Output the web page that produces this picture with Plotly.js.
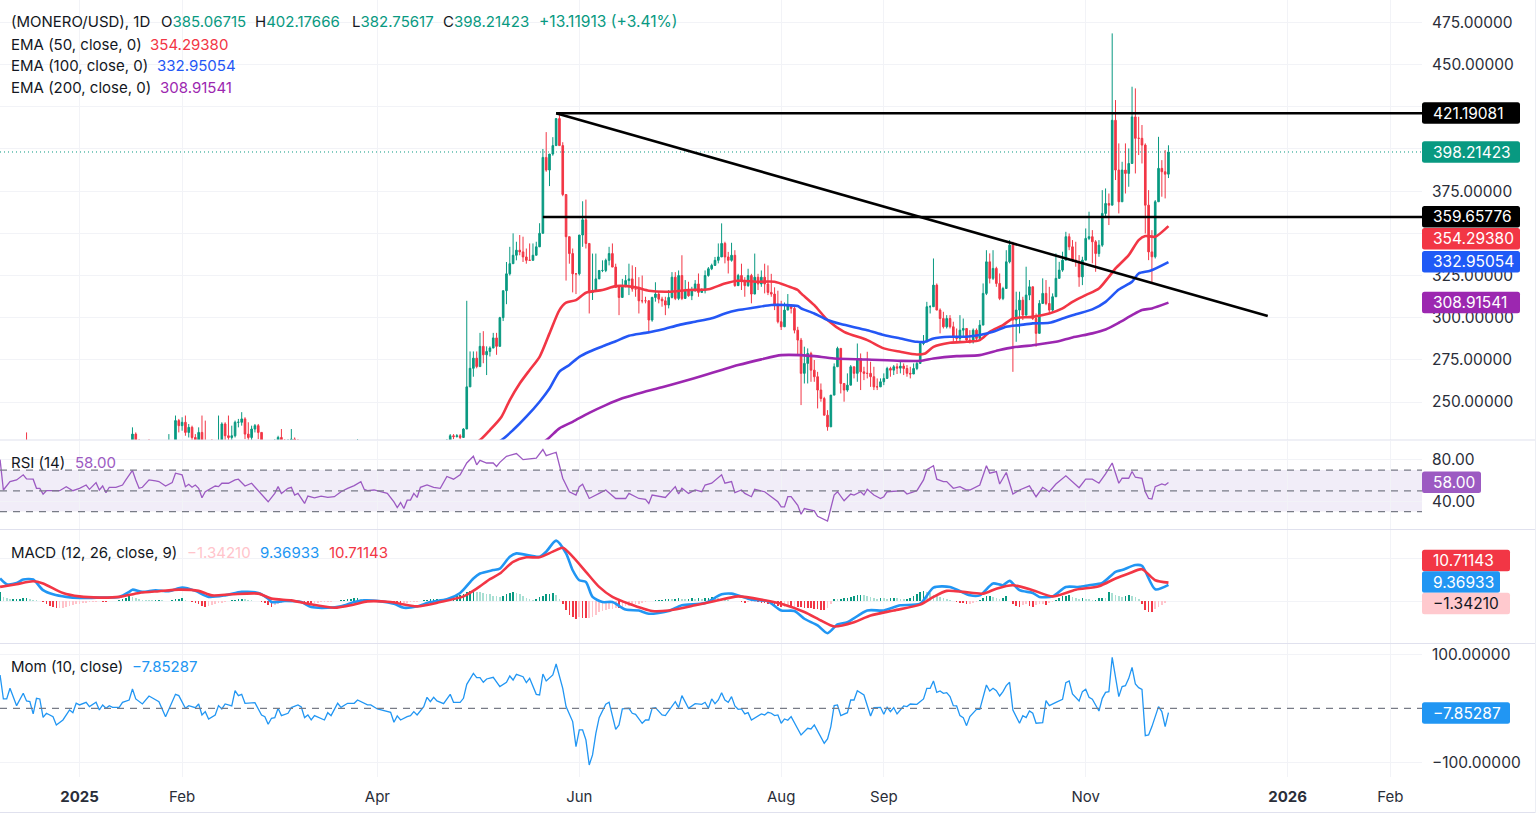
<!DOCTYPE html>
<html><head><meta charset="utf-8">
<script src="https://cdn.plot.ly/plotly-3.0.1.min.js"></script>
<style>html,body{margin:0;padding:0;background:#fff}</style></head>
<body><div id="chart" style="width:1536px;height:813px"></div>
<script>
// Daily bars start 24 days before 2025-01-01 (day 0 = 2025-01-01)
const firstDay = -24;
const closes = [
195,199,203,208,213,218,216,222,221,219, 217,214,210,213,216,212,209,211,215,218,
214,210,212,208,206,211,215,218,216,213, 210,214,217,220,216,213,215,218,221,224,
231,226,223,219,222,220,218,221,224,222, 220,226,224,239,236,238,232,235,229,226,
232,226,224,222,220,221,226,237,230,229, 230,238,238,240,231,229,234,236,232,226,
224,221,222,225,229,226,223,226,228,226, 225,222,219,217,214,212,215,213,210,208,
210,207,205,208,204,206,210,213,219,214, 212,209,206,203,205,208,206,204,207,210,
208,212,214,217,215,218,216,219,221,218, 220,222,224,221,223,224,230,229.5,230,229,234,
259,270,276,271,283,278,280,282,288,283, 300,316,326,332,337,340,339,336,334,334,
337,342,350,395,387.5,397,402,418,402,373, 348,338,326,326,349,358,344,315,316,323,
328,328,334,338,330,318,312,319,322,323, 317,317,310,310,310,298.6,312,314,311,310,
307.5,312,324,311.4,325,311.4,316,313,316,320, 315,316,325,329,331,334,336,344,336,334,
337,319,325,322,319,325,314,324,320,324, 320,315,314,308,297.6,294.6,304.5,307.5,305.5,292.6,
286.7,267,
272.9,278.8,268.9,265,257.1,252.1,242.2,235.3,254.1,270.9, 281.8,261,257.1,260,270.9,267,275.8,267.9,267,267,
265,259,259,262,264,269.9,268.9,270.9,270.1,271.3, 269.9,267,266.6,269.9,272.9,284.7,285.7,306.5,306.5,319.3,
304.5,299.5,294.6,299.5,294.6,288.7,287.7,292.6,293.6,286.7, 285.7,292.6,287.7,295.6,314.4,333.1,323.3,329.2,320.3,311.4,
317.3,333.1,343,298.6,304.5,310.4,301.5,313.4,318.3,299.5, 290.7,308.4,314.4,308.4,304.5,312.4,323.3,328.2,334.1,348,
342,334.1,333.1,324.2,334.1,347,348,345,338,343, 361.8,367.7,366.7,417,387.5,368.7,387.5,385.5,391.4,419,
406.3,406.3,402.3,366.7,339,336.1,368.7,388.5,386.5,385.07,398.21];
const highs = [
198,202,206,211,216,221,220,225,232,222, 221,219,216,217,220,218,214,215,219,222,
220,216,215,214,211,214,218,222,221,218, 216,218,221,224,222,219,218,222,225,227,
235,232,228,225,226,228,224,225,227,226, 225,231,227,242,240,241,242,237,236,231,
235,242,239,226,228,224,242,238,238,242, 236,239,240,244,241,238,236,237,237,232,
227,225,226,228,230,234,228,228,234,229, 228,226,224,222,219,216,218,217,215,213,
214,212,209,211,209,210,214,217,228,221, 217,214,211,208,209,212,210,208,211,214,
213,215,218,220,219,221,220,222,224,223, 223,225,227,226,226,228,231,231,231,231,234.5,
310,280,280,280,291,292,283,283,291,291, 300.5,316,333,342,350,345,349,348,341,344,
344,345,356,400,410,396,407,418,420,404, 373,348,341,326,349,369,370,344,338,338,
328,334,335,342,344,332,319,323,325.3,332, 331,330,324,325,312.4,310.4,312.4,321,315.4,312.4,
312.4,316.4,327,327,328,337,322.3,321.3,318.3,322.3, 326.2,317.4,328,330,332,336,344,355.9,345,339,
344.4,340,326,332,324,329,326,338,326,328, 332,331,326,318,316,310,309,314,307.5,307.5,
294.6,288,
282.8,281.8,279.8,274.9,267.9,261,253.1,245.2,254.1,272.9, 282.8,281.8,261,267,271.9,270.9,284.7,278.8,270.9,279.8,
273.9,270.9,264,264,267,270.9,270.9,271.9,272.9,273.9, 272.9,271.9,270.9,272.9,274.9,285.7,289.7,309.4,307.4,335.1,
320.3,305.5,303.5,301.5,301.5,297.6,293.6,301.5,299.5,293.6, 292.6,293.6,293.6,298.6,320.3,340,338.1,340,330.2,326.2,
318.3,340,346,345,315.4,315.4,312.4,330.2,322.3,317.3, 302.5,310.4,323.3,322.3,318.3,314.4,338.1,333.1,339.1,350.9,
349.9,346,345,337.1,336.1,352.9,362.8,351.9,346,346, 375.6,376.6,373.6,468.5,429,403.3,392.4,403.3,400.3,436.9,
435.9,419.1,414.2,403.3,375.6,351.9,369.7,407.2,393.4,399.3,402.18];
const lows = [
191,194,198,202,207,212,213,215,218,216, 214,209,206,208,212,208,205,207,210,214,
211,207,208,204,202,205,210,214,212,209, 206,209,212,216,212,209,211,214,217,220,
223,223,218,215,218,216,214,217,220,218, 216,219,220,223,232,233,230,229,226,222,
224,224,220,218,216,218,219,224,226,225, 226,229,235,236,228,225,227,232,228,222,
219,217,218,220,224,222,219,221,224,222, 221,218,215,213,210,208,210,209,206,204,
206,203,201,203,200,201,205,209,212,210, 208,204,201,199,201,204,202,200,203,206,
204,207,210,213,211,213,212,214,217,214, 216,218,220,217,219,220,224,228,229,228,229,
234,259,265,270,271,273,266,277,282,278, 283,298,308,325,332,334,337,333,332,334,
336,337,349,350,386.5,378,396,402,402,372, 322,332,315,314,325,342,341,302.5,310.5,316,
323,327,327,331,330,318,301.5,312,318,313.4, 315.4,312.4,302.5,308.5,308.5,290.7,297.6,309.5,308.5,306.5,
301.5,305.5,311.4,310.4,310.4,310.4,312.4,312.4,310.4,315.4, 312.4,315.4,314.4,324.3,328.2,331.2,332.2,336.1,332.2,326.2,
333.2,318.3,321.3,316.4,312.4,318.3,308.5,314.4,316.4,318.3, 314.4,313.4,312.4,304.5,296.6,292.7,294.6,304.5,302.5,290.7,
277.8,248.2,
261,261,262,262,246.2,250.2,242.2,233,235.3,254.1, 270.9,255.1,250.2,256.1,260,264,262,257.1,263,264,
259,257.1,257.1,259,260,264,265,266,266.6,267, 266,265,264,266.6,268.9,272.9,283.7,285.7,302.5,306.5,
304.5,290.7,293.6,293.6,293.6,285.7,285.7,285.7,288.7,285.7, 284.7,284.7,285.7,287.7,295.6,313.4,320.3,322.3,318.3,310.4,
310.4,317.3,332.2,267.9,285.7,290.7,298.6,306.5,310.4,298.6, 282.8,290.7,308.4,307.4,302.5,303.5,312.4,323.3,327.2,334.1,
340,333.1,330.2,318.3,319.3,334.1,346,332.2,327.2,336.1, 342,359.8,354.9,366.7,381.6,361.8,368.7,373.6,377.6,391.4,
385.5,396.4,391.4,349.9,334.1,320.3,335.1,368.7,371.7,370.7,382.76];

const ema50Days = [110,121,124,127.5,130,133,136,139,142,145,147,150,153,158,162,168,172,178,184,190,195,199,205,210,214,217,218,222,226,231,238,243,248,253,255.5,258,263,268,272,275,279,282,288,293,297,300,304,308,311,313,317,320,322,325,329];
const ema50Vals = [215,227.5,233.4,241.3,251.2,261,269,276.8,290.7,304.5,308.9,310.4,314.8,316.4,318.7,318,316,315.4,316.4,316.8,320.3,321.9,321.3,321.3,318.7,316.4,314.4,307.4,298.6,291.6,286.7,281.8,279.8,278.2,278.8,282.7,285.1,285.7,286.7,291.6,295.6,299.5,300.5,302.5,305.5,309.4,313.4,317.3,324.2,329.2,337.1,346,348.4,348,354.29];
const ema100Days = [115,127.5,131,135,139,142,145,148,151,154,158,162,166,171,176,181,186,191,195,199,204,209,213,217,218,222,226,230,238,243,248,253,255.5,258,263,268,272,276,280,284,288,293,297,301,306,310,314,318,320,323.5,329];
const ema100Vals = [214,227.5,233.4,241.3,250.2,258,268,272,276.8,279.8,283,286,289.3,291,293,295.6,297.6,299.6,302.5,304.5,306,307.5,307.5,306.9,305.5,302.5,298.6,296.2,292.6,289.7,287.7,285.7,285.7,287.7,288.7,288.7,289.7,291.6,294.6,295.6,296.6,297,299.5,302.1,304.9,309.4,316.7,321.3,326.2,327.8,332.95];
const ema200Days = [130,141,145,149,154,159,164,170,176,182,189,194,199,206,212,218,222,228,238,248,254,258,265,272,278,282,288,295,300,306,310,314,318,321,324,329];
const ema200Vals = [215,227.4,234.4,238.3,243.6,248.2,252.2,255.7,258.7,262,266,269,271.9,275.3,277.8,277.8,277.2,275.8,275.2,274.4,274.4,275.8,277.2,277.8,280.8,282.4,283.7,285.7,288.3,290.7,293,297,301.5,304.5,305.5,308.92];

const rsiDays = [-24,-23,-21,-19,-17,-16,-14,-13,-12,-11,-10,-6,-4,-2,0,2,3,5,6,7,8,9,11,13,14,16,17,18,19,21,23,24,26,28,29,31,32,33,34,35,36,37,38,39,41,42,43,45,47,48,50,52,54,56,57,59,60,61,63,64,65,66,68,69,71,73,75,77,79,81,83,85,86,87,89,91,93,95,96,97,98,99,100,101,102,103,105,107,109,111,113,115,117,119,120,121,123,125,126,127,129,132,134,138,140,141,144,146,148,150,151,152,154,157,159,162,165,166,169,171,172,173,177,180,181,182,184,186,188,189,191,194,195,197,198,200,201,203,204,207,209,211,212,213,214,215,217,218,219,222,223,226,228,229,231,233,234,236,237,238,240,242,243,244,249,250,253,255,256,258,259,261,262,264,266,268,269,272,274,275,277,278,280,282,284,287,289,291,293,295,298,300,302,304,306,308,310,312,314,315,317,318,319,321,322,323,324,325,327,328,329];
const rsiVals = [80,50.8,58.9,60.5,65.4,61.5,61.2,52.4,52.4,46.8,50.1,50.1,54,50.1,52.4,55.6,51.4,57.9,50.8,54.6,48.2,53.4,53.4,55.6,60.5,69.6,60.5,52.4,53.4,60.5,59.5,58.9,54.6,57.9,67,65.4,54,56.3,53.4,55.6,52.4,43.3,49.1,50.8,54.6,54,57.3,57.3,60.5,61.2,54.6,57.3,50.1,43.6,39.4,47.5,54,47.5,52.4,53.4,45.9,47.5,37.8,44.9,43.3,44.9,43.6,44.3,49.1,52.4,55,58.9,51.4,50.1,50.8,49.1,47.5,39.4,33.9,38.7,32.9,41,41,47.5,43.6,53.4,55.6,53.4,52.4,63.8,61.2,65.4,76.8,83.3,75.1,79.4,76.8,76.8,73.5,77.4,83.3,85.9,80,81.6,89.8,83.9,87.2,62.1,49.1,45.9,54,56.3,42.6,47.5,50.8,42.6,42.6,47.5,42.6,41.7,37.8,45.9,43.6,54,46.9,52.4,47.5,50.8,49.1,55.6,57.3,65.4,57.3,58.9,48.2,50.8,47.5,44.3,51.4,49.1,44.3,39.4,34.5,34.5,44.3,44.3,36.1,27.4,32.9,30.6,25.4,20.9,45.9,49.1,40.4,46.9,45.9,49.1,45.9,51.4,45.9,42.6,44.3,49.1,50.1,46.9,50.1,60.5,70.3,74.2,61.2,58.9,58.9,52.4,54,50.8,50.8,55.6,74.2,67,68.6,56.6,67.7,46.9,50.8,54.7,44.3,53.4,49.1,56.6,64.4,58.9,53,61.2,61.2,57.3,66.3,76.8,57.3,62.1,62.1,68.6,63.1,62.1,49.1,42.6,42,54,56.6,55.6,58];

const macdDays = [-24,-22,-19,-17,-14,-11,-8,-4,0,6,12,15,16,19,23,27,31,35,39,44,49,54,57,58,62,67,70,75,79,83,86,91,95,98,102,106,111,115,119,121,125,127,130,132,139,141,144,147,149,151,153,155,158,161,165,169,172,178,182,189,194,197,203,208,212,216,219,223,226,229,232,238,243,248,254,258,263,269,272,276,279,281,284,288,290,294,298,302,305,309,313,315,319,321,325,329];
const macdVals = [13.1,9.8,10.5,12.5,12.5,6.3,3.9,2.4,1.8,2,2.4,5.3,6.6,5.3,6.3,5.7,7.8,5.9,2.4,3.3,5.3,4.7,1.4,-0.6,0,-0.6,-3.5,-3.9,-3.1,-0.6,0.4,-0.2,-1.6,-3.9,-3.1,-0.6,1,4.7,13.1,16,18,18.9,25.8,27.7,25.8,28.7,35.1,27.7,17.9,12.1,11.1,2.4,-0.6,-0.6,-5,-5.5,-7.4,-5.8,-2.5,-1.2,3.9,4.3,0.8,-0.2,-5.5,-5.8,-10.3,-14.2,-18.7,-13.6,-12.3,-5.5,-5.5,-2.5,-1.6,7.8,8.2,3.3,3.3,10.2,9.2,11.7,6.3,4.7,2.4,2.7,8.2,8.2,9.2,10.5,17,18,20.9,20.5,6.8,9.37];
const signalDays = [-24,-19,-14,-11,-5,0,6,12,18,24,30,36,40,46,54,58,64,69,77,83,87,94,102,109,116,120,124,127,131,135,139,143,146,149,153,157,161,166,173,178,186,192,199,207,212,219,224,228,234,239,246,254,258,262,267,273,277,282,288,294,301,308,313,317,321,325,329];
const signalVals = [8.2,9.8,11.5,10.2,4.7,2.7,2,2.4,4.7,5.7,6.6,5.9,3.3,3.9,4.3,1.4,0.4,-1.6,-3.9,-2,-0.2,-0.6,-3.1,-0.6,2.7,7.2,12.7,16,22.8,25.4,25.4,28.7,31,25.8,17,8.2,2.4,-1.6,-5.8,-5.5,-2.5,0,2.7,0.4,-1.6,-6.4,-11.3,-14.8,-12.3,-8.4,-5.5,-2.1,2.4,5.9,5.3,4.3,7.2,9.2,6.3,2.7,6.6,8.6,13.1,16,18.5,12.1,10.71];
const histVals = [
5.2,2.5,1.5,1,1,1.2,1.3,1.5,2,1.2, 0.8,0.6,0.3,-0.5,-1.6,-2.8,-3.6,-4,-4,-3.8,
-3.6,-3,-2.4,-2,-1.6,-1.2,-0.9,-0.6,-0.4,-0.3, -0.2,-0.3,-0.6,-0.2,0.2,0.3,0.6,1.2,2,3,
2.4,1.8,1.2,0.8,0.7,0.5,0.4,0.4,0.8,0.5, 0.2,0.1,0.5,1,1.4,1.6,0.5,-0.2,-0.6,-1,
-2,-2.8,-3.2,-3,-2.4,-1.8,-1.4,-0.9,-0.5,0.3, 0.5,0.8,1,1.2,0.9,0.7,0.4,0.3,0.2,-0.5,
-1.4,-2.6,-3.2,-2.6,-1.6,-1,-0.6,-0.4,-0.3,-0.3, -0.5,-0.8,-1,-1.1,-1.2,-1.1,-1,-0.8,-0.6,-0.5,
-0.3,-0.2,0.3,0.5,0.7,1,1.2,1.5,1.6,1.4, 1.2,0.9,0.7,0.5,0.4,0.2,0.1,-0.2,-0.4,-0.7,
-1.2,-1.3,-1.2,-1,-0.7,-0.5,-0.3,0.3,0.6,0.8, 1,1,1.2,1,1.4,1.8,2.2,2.6,3,3.6,4.2,
5.3,6,6,5.5,5,4.6,4.2,3.8,3.2,2.8, 2.6,3.2,3.8,4.4,5.3,4.6,3.8,3,2,1.2,
0.6,1.2,2.3,3,3.9,4.3,4.7,3.5,0.9,-2, -5,-8,-9.5,-10.5,-9.5,-9.8,-10,-9.8,-9.4,-8,
-6.5,-6,-5,-4.5,-4.4,-4,-4.2,-3.5,-3,-2.8, -2.6,-2,-1.6,-1,-0.6,-0.2,0.1,0.4,0.4,0.8,
1.2,1.4,1.2,1.3,1.5,1.1,1,1.2,1.6,1, 1.8,1.4,1.6,1.8,2.4,2.2,1.8,1.2,0.8,0.6,
0.2,0.1,-0.2,-0.3,-1,-0.8,-0.5,-0.3,-0.8,-1, -1.2,-1.5,-2,-2.5,-3,-3.5,-3.2,-3,-3.4,-3.2,
-3.4,-3.6,-3.8,-4,-4.2,-4.5,-4.6,-5,-5.2,-4.2, -2,1.2,1,1.2,1.6,2,2.4,3,3.4,3.6,
3.4,2.8,2.2,1.6,1.4,1.6,1.5,1.4,1.6,1.7, 1.5,1.2,1,1.2,2,2.8,4,5,5.8,5.4,
4.6,3.4,3,2.6,2,1.2,0.6,0.2,-0.4,-1, -1.2,-1.6,-1.6,-1.3,-0.6,0.6,2,2.8,3.2,2.6,
1.6,1.2,2,3,0.2,-1.6,-2.8,-3.2,-2.6,-2, -3,-3.6,-2.6,-2,-2,-2.2,-1.4,-0.4,0.6,1.6,
2.8,3,3.4,2.6,1.6,1.4,1.6,1.4,1,0.6, 0.8,1.6,2,1.8,5,4.6,3.6,3,2.6,3,
3.6,3,2.4,1.4,-1.8,-5,-6.4,-6.5,-4.6,-3.5,-2.4,-1.34];

const momDays = [-24,-23,-22,-21,-19,-17,-16,-15,-14,-13,-12,-11,-10,-8,-7,-5,-3,-2,-1,0,2,3,5,6,7,8,9,10,12,13,15,16,17,19,21,24,26,29,30,32,33,35,36,37,38,39,41,42,43,44,46,47,48,49,50,52,53,55,56,57,58,59,60,61,63,64,66,67,68,69,70,71,74,75,76,78,79,81,83,84,87,88,90,94,95,96,97,99,100,101,102,104,105,106,107,108,110,112,113,115,116,117,119,120,121,122,123,125,127,129,130,131,132,134,135,136,138,139,140,141,143,144,146,147,149,150,151,152,153,154,155,156,157,159,160,162,163,164,166,167,168,170,171,172,173,174,176,177,180,181,182,184,186,188,189,190,191,192,193,194,195,196,197,198,199,200,201,202,203,206,207,208,209,210,211,212,213,214,215,218,220,221,222,225,226,227,228,229,230,232,233,234,235,237,239,240,242,243,244,245,246,247,249,250,251,253,255,256,257,258,259,260,261,262,263,264,265,266,267,268,269,271,272,274,275,276,277,278,279,280,281,282,284,285,286,287,288,289,291,292,293,295,297,298,299,300,302,303,304,305,306,308,309,310,311,312,314,315,316,317,318,319,320,321,322,323,324,326,327,328,329];
const momVals = [62,17.5,17.5,37.3,5.1,28,13.8,12.5,-10.3,18.7,17.5,-16.5,-9,-15.3,-30.7,-21.5,-2.9,-7.9,9.5,6.4,11.3,3.3,11.3,-2.9,6.4,0.2,5.1,2,2,11.3,15.6,36,17.5,8.2,23,12.5,-15.3,26.1,23.7,0.2,5.1,1.4,8.2,-12.2,-6,-19.6,-12.2,5.1,-1,8.2,4.5,32.9,23.7,26.1,9.5,9.5,10.7,-12.2,-15.3,-29.5,-18.4,-17.1,0.2,-13.4,-9,1.4,6.4,2.7,-17.1,-12.2,-21.5,-13.4,-21.5,-7.9,-13.4,9.5,2,9.5,9.5,15.6,6.4,6.4,-1,-7.2,-25.8,-14,-21.5,-15.3,-13.4,-6,-12.2,3.3,20.6,12.5,20.6,13.8,8.8,26.1,11.3,11.3,18.7,44.7,65.1,57,57,48.4,54.6,57.7,40.4,48.4,60.1,52.7,63.2,58.9,47.8,55.8,26.1,24.9,63.8,50.9,62,82.4,37.3,3.3,-24.5,-70.9,-40,-40,-58.5,-104.9,-86.3,-46.2,-17.1,7.6,11.3,-38.8,-30.7,-1,0.2,-9,-10.9,-27.6,-21.5,-21.5,0.2,1.4,-12.2,-13.4,12.5,1.4,23.7,0.2,8.8,7.6,11.3,0.2,17.5,8.8,15.6,29.2,15.6,11.3,21.8,4.5,-1.7,-1,-10.3,-7.9,-21.5,-10.3,-12.2,-7.2,-9,-13.4,-12.2,-27.6,-19.6,-22,-15.3,-49.3,-36.9,-38.1,-30.7,-64.7,-56.7,-33.8,5.1,6.4,-13.4,-7.9,15.6,15.6,32.9,24.9,-14,1.4,2,-11,2,-6,1.4,-10.3,4.5,3.3,8.2,7.6,17.5,37.3,37.3,50.9,29.8,32.3,28,29.2,21.8,5.1,4.5,-13.4,-17.1,-32,-15.3,-1.7,-1.7,43.4,32.3,37.3,32.9,23,31.1,42.2,48.4,-2.9,-27.6,-13.4,-17.1,-4.8,-9,-27.6,-26.4,14.4,5.1,11.3,16.9,47.8,50.9,26.8,13.8,31.1,35.4,20.6,16.9,-4.8,18.7,29.8,31.1,94.7,21.8,40.4,42.2,55.8,76.2,45.3,38.5,35.4,-50.5,-49.3,-33.8,3.3,-6,-33.8,-7.85];

// Drawn levels and trend line
const resistance = 421.19081, support = 359.65776, lastClose = 398.21423;
const resistanceStartDay = 144, supportStartDay = 140, axisEndDay = 405.6, axisStartDay = -24.02;
const trendDays = [144, 359], trendVals = [421.19, 301];

// Axis ticks
const priceTicks = [475,450,425,400,375,350,325,300,275,250];
const priceTickText = ['475.00000','450.00000','','','375.00000','','325.00000','300.00000','275.00000','250.00000'];
const dateTickDays = [0,31,90,151,212,243,304,365,396];
const dateTickText = ['<b>2025</b>','Feb','Apr','Jun','Aug','Sep','Nov','<b>2026</b>','Feb'];

const C = {up:'#089981',down:'#f23645',ema100:'#2457f5',ema200:'#9c27b0',rsi:'#9c5ac2',blue:'#2196f3',
           grid:'#f2f3f7',sep:'#e0e1ee',text:'#131722',ink:'#2a2e39'};
const W=1536,H=813,PW=1422;
const FONT='Inter, "Noto Sans", sans-serif';
const px=x=>x/W, py=y=>1-y/H;
const day=d=>new Date(Date.UTC(2025,0,1)+d*864e5).toISOString();
const dates=a=>a.map(day);
const allDays=closes.map((_,i)=>firstDay+i);
const opens=closes.map((c,i)=>i?closes[i-1]:c);
const xs=dates(allDays);
const range=[day(axisStartDay),day(axisEndDay)];

const line=(x,y,color,w,ya,extra)=>Object.assign({type:'scatter',mode:'lines',x:x,y:y,yaxis:ya,xaxis:'x',
  hoverinfo:'skip',cliponaxis:true,line:{color:color,width:w,shape:'linear'}},extra||{});
const smooth=(x,y,color,w,ya)=>line(x,y,color,w,ya,{line:{color:color,width:w,shape:'spline',smoothing:0.7}});

const histColors=histVals.map((v,i)=>{const p=i?histVals[i-1]:v;
  return v>=0?(v>=p?C.up:'#a9dfd3'):(v<p?C.down:'#ffc4cb');});

const traces=[
 {type:'candlestick',x:xs,open:opens,high:highs,low:lows,close:closes,xaxis:'x',yaxis:'y',
  increasing:{line:{color:C.up,width:1},fillcolor:C.up},decreasing:{line:{color:C.down,width:1},fillcolor:C.down},
  whiskerwidth:0,hoverinfo:'skip'},
 smooth(dates(ema50Days),ema50Vals,C.down,2.6,'y'),
 smooth(dates(ema100Days),ema100Vals,C.ema100,2.6,'y'),
 smooth(dates(ema200Days),ema200Vals,C.ema200,2.6,'y'),
 line([day(axisStartDay),day(axisEndDay)],[lastClose,lastClose],C.up,1,'y',{line:{color:C.up,width:1,dash:'1px,3px'}}),
 line([day(resistanceStartDay),day(axisEndDay)],[resistance,resistance],'#000',2.6,'y'),
 line([day(supportStartDay),day(axisEndDay)],[support,support],'#000',2.6,'y'),
 line(dates(trendDays),trendVals,'#000',2.6,'y'),
 line(dates(rsiDays),rsiVals,C.rsi,1.3,'y2'),
 {type:'bar',x:xs,y:histVals,yaxis:'y3',xaxis:'x',width:0.5*864e5,marker:{color:histColors,line:{width:0}},hoverinfo:'skip'},
 smooth(dates(macdDays),macdVals,C.blue,2.6,'y3'),
 smooth(dates(signalDays),signalVals,C.down,2.6,'y3'),
 line(dates(momDays),momVals,C.blue,1.3,'y4')
];

const yBase={side:'right',anchor:'x',showgrid:true,gridcolor:C.grid,gridwidth:1,zeroline:false,showline:false,ticks:'',
  tickfont:{family:FONT,size:15.5,color:C.ink},ticklabelstandoff:9,fixedrange:true};
const layout={
 width:W,height:H,margin:{l:0,r:0,t:0,b:0},paper_bgcolor:'#fff',plot_bgcolor:'#fff',showlegend:false,dragmode:false,bargap:0,
 xaxis:{type:'date',domain:[0,px(PW)],range:range,anchor:'y4',tickmode:'array',tickvals:dateTickDays.map(day),ticktext:dateTickText,
   showgrid:true,gridcolor:C.grid,gridwidth:1,zeroline:false,showline:false,ticks:'',ticklabelstandoff:9,
   tickfont:{family:FONT,size:15,color:C.ink},rangeslider:{visible:false},fixedrange:true},
 yaxis:Object.assign({},yBase,{domain:[py(440),py(0)],range:[227.5,488.3],tickmode:'array',tickvals:priceTicks,ticktext:priceTickText}),
 yaxis2:Object.assign({},yBase,{domain:[py(529.5),py(440.5)],range:[12.7,98.5],tickmode:'array',tickvals:[80,40],ticktext:['80.00','40.00']}),
 yaxis3:Object.assign({},yBase,{domain:[py(643.5),py(530)],range:[-24.7,41.3],tickmode:'array',tickvals:[25,0],ticktext:['','']}),
 yaxis4:Object.assign({},yBase,{domain:[py(777),py(644)],range:[-127.3,119.5],tickmode:'array',tickvals:[100,-100],ticktext:['100.00000','\u2212100.00000']}),
 shapes:[],annotations:[]
};

// RSI band and dashed guides, momentum zero line
layout.shapes.push({type:'rect',layer:'below',xref:'paper',x0:0,x1:px(PW),yref:'y2',y0:30,y1:70,fillcolor:'rgba(126,87,194,0.11)',line:{width:0}});
const dash={color:'#787b86',width:1.2,dash:'7px,6px'};
[70,50,30].forEach(v=>layout.shapes.push({type:'line',layer:'above',xref:'paper',x0:0,x1:px(PW),yref:'y2',y0:v,y1:v,line:dash}));
layout.shapes.push({type:'line',layer:'above',xref:'paper',x0:0,x1:px(PW),yref:'y4',y0:0,y1:0,line:dash});
// Pane separators and frame
[440,529.5,643.5,812.5].forEach(y=>layout.shapes.push({type:'line',xref:'paper',yref:'paper',x0:0,x1:1,y0:py(y),y1:py(y),line:{color:C.sep,width:1.2}}));
layout.shapes.push({type:'line',xref:'paper',yref:'paper',x0:px(1535.5),x1:px(1535.5),y0:0,y1:1,line:{color:'#eceef4',width:1}});

function roundRect(x0,y0,x1,y1,r){
 const X=px,Y=py;
 return `M${X(x0+r)},${Y(y0)} L${X(x1-r)},${Y(y0)} Q${X(x1)},${Y(y0)} ${X(x1)},${Y(y0+r)} L${X(x1)},${Y(y1-r)} Q${X(x1)},${Y(y1)} ${X(x1-r)},${Y(y1)} L${X(x0+r)},${Y(y1)} Q${X(x0)},${Y(y1)} ${X(x0)},${Y(y1-r)} L${X(x0)},${Y(y0+r)} Q${X(x0)},${Y(y0)} ${X(x0+r)},${Y(y0)} Z`;
}
const priceTags=[
 ['421.19081',113,1520,'#000','#fff'],
 ['398.21423',152,1520,C.up,'#fff'],
 ['359.65776',216.8,1520,'#000','#fff'],
 ['354.29380',238.8,1520,'#f23645','#fff'],
 ['332.95054',261.8,1520,'#1f5af6','#fff'],
 ['308.91541',302.5,1520,C.ema200,'#fff'],
 ['58.00',482.3,1481,C.rsi,'#fff'],
 ['10.71143',560.5,1510,'#f23645','#fff'],
 ['9.36933',582,1500,C.blue,'#fff'],
 ['\u22121.34210',603.5,1510,'#ffc9ce','#131722'],
 ['\u22127.85287',713,1510,C.blue,'#fff']
];
priceTags.forEach(t=>{
 layout.shapes.push({type:'path',layer:'above',xref:'paper',yref:'paper',path:roundRect(1422,t[1]-10.8,t[2],t[1]+10.8,2.5),fillcolor:t[3],line:{width:0}});
 layout.annotations.push({xref:'paper',yref:'paper',x:px(1431),y:py(t[1]),xanchor:'left',yanchor:'middle',showarrow:false,text:t[0],font:{family:FONT,size:15.5,color:t[4]}});
});

const legend=(x,y,text,color,size)=>layout.annotations.push({xref:'paper',yref:'paper',x:px(x),y:py(y),xanchor:'left',yanchor:'middle',showarrow:false,text:text,font:{family:FONT,size:size||15,color:color||C.text}});
const green=s=>`<span style="color:${C.up}">${s}</span>`;
legend(9,22,'(MONERO/USD), 1D');
legend(158.5,22,'O'+green('385.06715'));
legend(253,22,'H'+green('402.17666'));
legend(350,22,'L'+green('382.75617'));
legend(441,22,'C'+green('398.21423'));
legend(537,22,'+13.11913 (+3.41%)',C.up,15.6);
legend(9,44,'EMA (50, close, 0)');  legend(148,44,'354.29380','#f23645');
legend(9,65.5,'EMA (100, close, 0)'); legend(155,65.5,'332.95054','#2457f5');
legend(9,87,'EMA (200, close, 0)'); legend(158,87,'308.91541',C.ema200);
legend(9,463,'RSI (14)');           legend(73,463,'58.00',C.rsi);
legend(9,552.5,'MACD (12, 26, close, 9)'); legend(185,552.5,'\u22121.34210','#ffc4cb');
legend(258,552.5,'9.36933',C.blue);  legend(327,552.5,'10.71143','#f23645');
legend(9,666.5,'Mom (10, close)');  legend(130,666.5,'\u22127.85287',C.blue);

Plotly.newPlot('chart',traces,layout,{staticPlot:true,displayModeBar:false});
</script></body></html>
